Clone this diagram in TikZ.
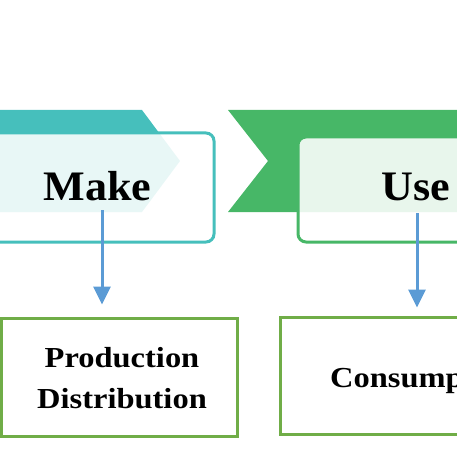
\documentclass[tikz,border=0pt]{standalone}
\usepackage{fontspec}
\usepackage{graphicx}
\setmainfont{Liberation Serif}
\usetikzlibrary{arrows.meta}
\definecolor{tealband}{HTML}{46BFBC}
\definecolor{greenband}{HTML}{47B767}
\definecolor{boxgreen}{HTML}{70AD47}
\definecolor{arrowblue}{HTML}{5B9BD5}
\tikzset{
  stagebox/.style={draw=#1, line width=3pt, rounded corners=8pt, fill=white, fill opacity=0.88, draw opacity=1, text opacity=1},
  lowbox/.style={draw=boxgreen, line width=3pt, fill=white},
  bigtxt/.style={font=\bfseries\fontsize{42}{42}\selectfont, anchor=base, inner sep=0pt, text=black},
  smalltxt/.style={font=\bfseries\fontsize{29}{41}\selectfont, anchor=base, inner sep=0pt, text=black, align=center},
  flow/.style={draw=arrowblue, line width=3pt, -{Triangle[length=18pt,width=17pt]}}
}
\begin{document}
\begin{tikzpicture}[x=1pt,y=-1pt]
\useasboundingbox (0,0) rectangle (457,457);
\clip (0,0) rectangle (457,457);
% teal chevron band
\fill[tealband] (-40,110) -- (142,110) -- (180,161) -- (142,212) -- (-40,212) -- cycle;
% green notched band
\fill[greenband] (228,110) -- (520,110) -- (520,212) -- (228,212) -- (268,161) -- cycle;
% stage boxes
\node[stagebox=tealband, minimum width=244pt, minimum height=109pt] (makebox) at (92,187.5) {};
\node[stagebox=greenband, minimum width=260pt, minimum height=105pt] (usebox) at (428,189.5) {};
% stage labels
\node[bigtxt] (maketxt) at (97.5,200) {\scalebox{1.05}[1]{Make}};
\node[bigtxt] (usetxt) at (416,200) {\scalebox{1.05}[1]{Use}};
% lower boxes
\node[lowbox, minimum width=236pt, minimum height=118pt] (prodbox) at (119,377) {};
\node[lowbox, minimum width=300pt, minimum height=117pt] (consbox) at (430,375.5) {};
\node[smalltxt] (prodtxt) at (122,408) {\scalebox{1.12}[1]{Production}\\\scalebox{1.12}[1]{Distribution}};
\node[smalltxt] (constxt) at (330,387) [anchor=base west] {\scalebox{1.12}[1]{Consumption}};
% arrows
\coordinate (mk) at (102,210);
\coordinate (us) at (417,213);
\draw[flow, shorten >=12pt] (mk) -- (mk |- prodbox.north);
\draw[flow, shorten >=8pt] (us) -- (us |- consbox.north);
\end{tikzpicture}
\end{document}
